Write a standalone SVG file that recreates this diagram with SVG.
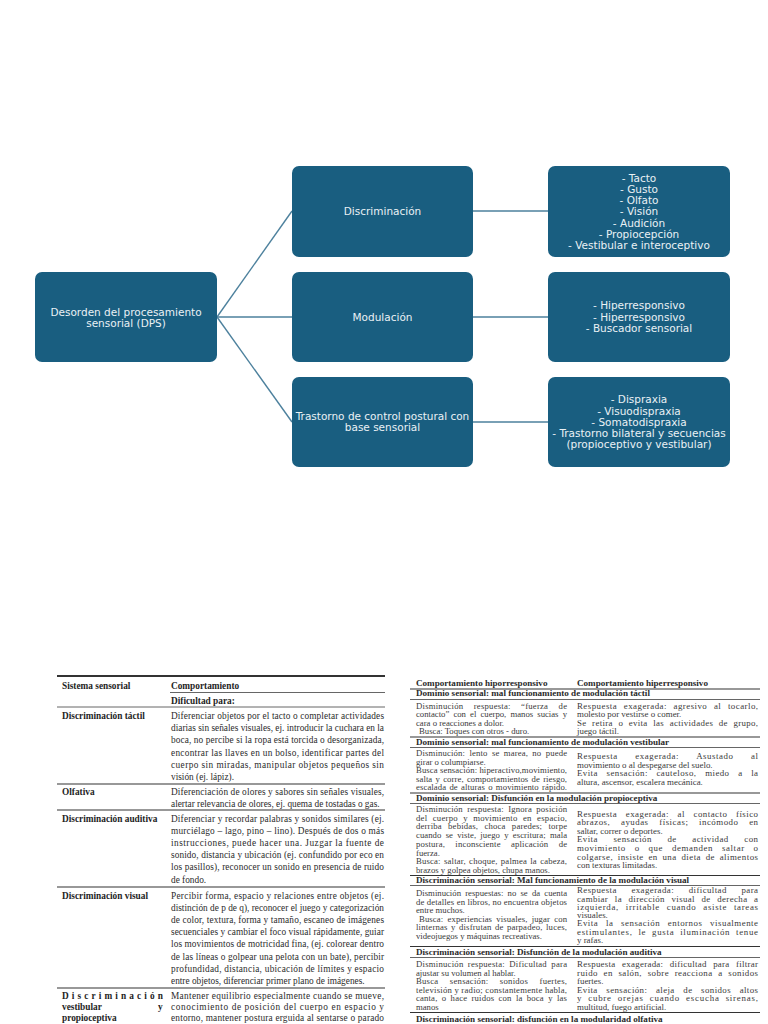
<svg xmlns="http://www.w3.org/2000/svg" width="768" height="1024" viewBox="0 0 768 1024">
<defs>
<style>
.bg{fill:#ffffff}
.node{fill:#195e80}
.nt{font-family:"DejaVu Sans",sans-serif;font-size:10.5px;fill:#eaf1f5;text-anchor:middle}
.conn{stroke:#4d819d;stroke-width:1.4;fill:none}
.lt{font-family:"Liberation Serif",serif;font-size:9.3px;fill:#2b2b2b}
.lh{font-family:"Liberation Serif",serif;font-size:9.3px;font-weight:bold;fill:#1e1e1e}
.rt{font-family:"Liberation Serif",serif;font-size:8.7px;fill:#3a3a3a}
.rr{font-family:"Liberation Serif",serif;font-size:8.9px;fill:#3a3a3a}
.rh{font-family:"Liberation Serif",serif;font-size:9.1px;font-weight:bold;fill:#2a2a2a}
.rule{stroke:#555;stroke-width:0.9}
.rule2{stroke:#333;stroke-width:1.2}
.thick{stroke:#333;stroke-width:2}
</style>
</defs>
<rect class="bg" x="0" y="0" width="768" height="1024"/>

<g id="connectors">
<line class="conn" x1="217" y1="317" x2="292" y2="211"/>
<line class="conn" x1="217" y1="317" x2="292" y2="317"/>
<line class="conn" x1="217" y1="317" x2="292" y2="422"/>
<line class="conn" x1="473" y1="211" x2="548" y2="211"/>
<line class="conn" x1="473" y1="317" x2="548" y2="317"/>
<line class="conn" x1="473" y1="422" x2="548" y2="422"/>
</g>

<g id="node-dps">
<rect class="node" x="35" y="272" width="182" height="90" rx="7"/>
<text class="nt" x="126" y="315.5">Desorden del procesamiento</text>
<text class="nt" x="126" y="326.8">sensorial (DPS)</text>
</g>

<g id="node-discriminacion">
<rect class="node" x="292" y="166" width="181" height="91" rx="7"/>
<text class="nt" x="382.5" y="215.3">Discriminación</text>
</g>

<g id="node-modulacion">
<rect class="node" x="292" y="272" width="181" height="90" rx="7"/>
<text class="nt" x="382.5" y="320.8">Modulación</text>
</g>

<g id="node-trastorno">
<rect class="node" x="292" y="377" width="181" height="90" rx="7"/>
<text class="nt" x="382.5" y="420">Trastorno de control postural con</text>
<text class="nt" x="382.5" y="431.2">base sensorial</text>
</g>

<g id="node-sentidos">
<rect class="node" x="548" y="166" width="182" height="91" rx="7"/>
<text class="nt" x="639" y="181.8">- Tacto</text>
<text class="nt" x="639" y="193">- Gusto</text>
<text class="nt" x="639" y="204.1">- Olfato</text>
<text class="nt" x="639" y="215.3">- Visión</text>
<text class="nt" x="639" y="226.5">- Audición</text>
<text class="nt" x="639" y="237.6">- Propiocepción</text>
<text class="nt" x="639" y="248.8">- Vestibular e interoceptivo</text>
</g>

<g id="node-respuestas">
<rect class="node" x="548" y="272" width="182" height="90" rx="7"/>
<text class="nt" x="639" y="309.3">- Hiperresponsivo</text>
<text class="nt" x="639" y="320.5">- Hiperresponsivo</text>
<text class="nt" x="639" y="331.7">- Buscador sensorial</text>
</g>

<g id="node-praxias">
<rect class="node" x="548" y="377" width="182" height="90" rx="7"/>
<text class="nt" x="639" y="403.3">- Dispraxia</text>
<text class="nt" x="639" y="414.5">- Visuodispraxia</text>
<text class="nt" x="639" y="425.7">- Somatodispraxia</text>
<text class="nt" x="639" y="436.9">- Trastorno bilateral y secuencias</text>
<text class="nt" x="639" y="448.1">(propioceptivo y vestibular)</text>
</g>

<g id="tabla-discriminacion">
<line class="thick" x1="57" y1="676" x2="385" y2="676"/>
<line class="rule" x1="170" y1="692.5" x2="385" y2="692.5"/>
<line class="rule" x1="57" y1="707" x2="385" y2="707"/>
<line class="rule2" x1="57" y1="784" x2="385" y2="784"/>
<line class="rule2" x1="57" y1="810" x2="385" y2="810"/>
<line class="rule2" x1="57" y1="887" x2="385" y2="887"/>
<line class="rule2" x1="57" y1="988" x2="385" y2="988"/>

<text class="lh" x="62" y="689">Sistema sensorial</text>
<text class="lh" x="171" y="689">Comportamiento</text>
<text class="lh" x="171" y="703.5">Dificultad para:</text>

<text class="lh" x="62" y="719">Discriminación táctil</text>
<text class="lt" x="171" y="719" textLength="213" lengthAdjust="spacing">Diferenciar objetos por el tacto o completar actividades</text>
<text class="lt" x="171" y="731.2" textLength="213" lengthAdjust="spacing">diarias sin señales visuales, ej. introducir la cuchara en la</text>
<text class="lt" x="171" y="743.4" textLength="213" lengthAdjust="spacing">boca, no percibe si la ropa está torcida o desorganizada,</text>
<text class="lt" x="171" y="755.6" textLength="213" lengthAdjust="spacing">encontrar las llaves en un bolso, identificar partes del</text>
<text class="lt" x="171" y="767.8" textLength="213" lengthAdjust="spacing">cuerpo sin miradas, manipular objetos pequeños sin</text>
<text class="lt" x="171" y="780">visión (ej. lápiz).</text>

<text class="lh" x="62" y="794.5">Olfativa</text>
<text class="lt" x="171" y="794.5" textLength="213" lengthAdjust="spacing">Diferenciación de olores y sabores sin señales visuales,</text>
<text class="lt" x="171" y="806.7">alertar relevancia de olores, ej. quema de tostadas o gas.</text>

<text class="lh" x="62" y="821.5">Discriminación auditiva</text>
<text class="lt" x="171" y="821.5" textLength="213" lengthAdjust="spacing">Diferenciar y recordar palabras y sonidos similares (ej.</text>
<text class="lt" x="171" y="833.7" textLength="213" lengthAdjust="spacing">murciélago – lago, pino – lino). Después de dos o más</text>
<text class="lt" x="171" y="845.9" textLength="213" lengthAdjust="spacing">instrucciones, puede hacer una. Juzgar la fuente de</text>
<text class="lt" x="171" y="858.1" textLength="213" lengthAdjust="spacing">sonido, distancia y ubicación (ej. confundido por eco en</text>
<text class="lt" x="171" y="870.3" textLength="213" lengthAdjust="spacing">los pasillos), reconocer un sonido en presencia de ruido</text>
<text class="lt" x="171" y="882.5">de fondo.</text>

<text class="lh" x="62" y="898.5">Discriminación visual</text>
<text class="lt" x="171" y="898.5" textLength="213" lengthAdjust="spacing">Percibir forma, espacio y relaciones entre objetos (ej.</text>
<text class="lt" x="171" y="910.7" textLength="213" lengthAdjust="spacing">distinción de p de q), reconocer el juego y categorización</text>
<text class="lt" x="171" y="922.9" textLength="213" lengthAdjust="spacing">de color, textura, forma y tamaño, escaneo de imágenes</text>
<text class="lt" x="171" y="935.1" textLength="213" lengthAdjust="spacing">secuenciales y cambiar el foco visual rápidamente, guiar</text>
<text class="lt" x="171" y="947.3" textLength="213" lengthAdjust="spacing">los movimientos de motricidad fina, (ej. colorear dentro</text>
<text class="lt" x="171" y="959.5" textLength="213" lengthAdjust="spacing">de las líneas o golpear una pelota con un bate), percibir</text>
<text class="lt" x="171" y="971.7" textLength="213" lengthAdjust="spacing">profundidad, distancia, ubicación de límites y espacio</text>
<text class="lt" x="171" y="983.9">entre objetos, diferenciar primer plano de imágenes.</text>

<text class="lh" x="62" y="998.6" textLength="101" lengthAdjust="spacing">Discriminación</text>
<text class="lh" x="62" y="1010">vestibular</text>
<text class="lh" x="158" y="1010">y</text>
<text class="lh" x="62" y="1021.3">propioceptiva</text>
<text class="lt" x="171" y="998.6" textLength="213" lengthAdjust="spacing">Mantener equilibrio especialmente cuando se mueve,</text>
<text class="lt" x="171" y="1010" textLength="213" lengthAdjust="spacing">conocimiento de posición del cuerpo en espacio y</text>
<text class="lt" x="171" y="1021.3" textLength="213" lengthAdjust="spacing">entorno, mantener postura erguida al sentarse o parado</text>
</g>

<g id="tabla-modulacion">
<line class="rule2" x1="410" y1="689" x2="760" y2="689"/>
<line class="rule" x1="410" y1="699.5" x2="760" y2="699.5"/>
<line class="rule2" x1="410" y1="737" x2="760" y2="737"/>
<line class="rule" x1="410" y1="747.5" x2="760" y2="747.5"/>
<line class="rule2" x1="410" y1="793" x2="760" y2="793"/>
<line class="rule" x1="410" y1="803.5" x2="760" y2="803.5"/>
<line class="rule2" x1="410" y1="875.5" x2="760" y2="875.5"/>
<line class="rule" x1="410" y1="885.5" x2="760" y2="885.5"/>
<line class="rule2" x1="410" y1="946.5" x2="760" y2="946.5"/>
<line class="rule" x1="410" y1="957.5" x2="760" y2="957.5"/>
<line class="rule2" x1="410" y1="1012.5" x2="760" y2="1012.5"/>

<text class="rh" x="416" y="686">Comportamiento hiporresponsivo</text>
<text class="rh" x="577" y="686">Comportamiento hiperresponsivo</text>

<text class="rh" x="416" y="696.3">Dominio sensorial: mal funcionamiento de modulación táctil</text>
<text class="rt" x="416" y="708.6" word-spacing="8" textLength="151" lengthAdjust="spacing">Disminución respuesta: “fuerza de</text>
<text class="rt" x="416" y="717.2" word-spacing="2" textLength="151" lengthAdjust="spacing">contacto” con el cuerpo, manos sucias y</text>
<text class="rt" x="416" y="725.8">cara o reacciones a dolor.</text>
<text class="rt" x="419" y="734.4">Busca: Toques con otros - duro.</text>
<text class="rr" x="577" y="708.6" word-spacing="4" textLength="181" lengthAdjust="spacing">Respuesta exagerada: agresivo al tocarlo,</text>
<text class="rr" x="577" y="717.2">molesto por vestirse o comer.</text>
<text class="rr" x="577" y="725.8" word-spacing="3" textLength="181" lengthAdjust="spacing">Se retira o evita las actividades de grupo,</text>
<text class="rr" x="577" y="734.4">juego táctil.</text>

<text class="rh" x="416" y="744.5">Dominio sensorial: mal funcionamiento de modulación vestibular</text>
<text class="rt" x="416" y="756" word-spacing="2" textLength="151" lengthAdjust="spacing">Disminución: lento se marea, no puede</text>
<text class="rt" x="416" y="764.6">girar o columpiarse.</text>
<text class="rt" x="416" y="773.2" textLength="151" lengthAdjust="spacing">Busca sensación: hiperactivo,movimiento,</text>
<text class="rt" x="416" y="781.8" word-spacing="1" textLength="151" lengthAdjust="spacing">salta y corre, comportamientos de riesgo,</text>
<text class="rt" x="416" y="790.4" word-spacing="1" textLength="151" lengthAdjust="spacing">escalada de alturas o movimiento rápido.</text>
<text class="rr" x="577" y="759.2" word-spacing="15" textLength="181" lengthAdjust="spacing">Respuesta exagerada: Asustado al</text>
<text class="rr" x="577" y="767.8">movimiento o al despegarse del suelo.</text>
<text class="rr" x="577" y="776.4" word-spacing="6" textLength="181" lengthAdjust="spacing">Evita sensación: cauteloso, miedo a la</text>
<text class="rr" x="577" y="785">altura, ascensor, escalera mecánica.</text>

<text class="rh" x="416" y="800.5">Dominio sensorial: Disfunción en la modulación propioceptiva</text>
<text class="rt" x="416" y="812" word-spacing="2" textLength="151" lengthAdjust="spacing">Disminución respuesta: Ignora posición</text>
<text class="rt" x="416" y="820.7" word-spacing="3" textLength="151" lengthAdjust="spacing">del cuerpo y movimiento en espacio,</text>
<text class="rt" x="416" y="829.4" word-spacing="4" textLength="151" lengthAdjust="spacing">derriba bebidas, choca paredes; torpe</text>
<text class="rt" x="416" y="838.1" word-spacing="2" textLength="151" lengthAdjust="spacing">cuando se viste, juego y escritura; mala</text>
<text class="rt" x="416" y="846.8" word-spacing="8" textLength="151" lengthAdjust="spacing">postura, inconsciente aplicación de</text>
<text class="rt" x="416" y="855.5">fuerza.</text>
<text class="rt" x="416" y="864.2" word-spacing="1" textLength="151" lengthAdjust="spacing">Busca: saltar, choque, palmea la cabeza,</text>
<text class="rt" x="416" y="872.9">brazos y golpea objetos, chupa manos.</text>
<text class="rr" x="577" y="816.6" word-spacing="6" textLength="181" lengthAdjust="spacing">Respuesta exagerada: al contacto físico</text>
<text class="rr" x="577" y="825.2" word-spacing="8" textLength="181" lengthAdjust="spacing">abrazos, ayudas físicas; incómodo en</text>
<text class="rr" x="577" y="833.8">saltar, correr o deportes.</text>
<text class="rr" x="577" y="842.4" word-spacing="13" textLength="181" lengthAdjust="spacing">Evita sensación de actividad con</text>
<text class="rr" x="577" y="851" word-spacing="6" textLength="181" lengthAdjust="spacing">movimiento o que demanden saltar o</text>
<text class="rr" x="577" y="859.6" word-spacing="2" textLength="181" lengthAdjust="spacing">colgarse, insiste en una dieta de alimentos</text>
<text class="rr" x="577" y="868.2">con texturas limitadas.</text>

<text class="rh" x="416" y="883">Discriminación sensorial: Mal funcionamiento de la modulación visual</text>
<text class="rt" x="416" y="896" word-spacing="2" textLength="151" lengthAdjust="spacing">Disminución respuestas: no se da cuenta</text>
<text class="rt" x="416" y="904.5" textLength="151" lengthAdjust="spacing">de detalles en libros, no encuentra objetos</text>
<text class="rt" x="416" y="913">entre muchos.</text>
<text class="rt" x="419" y="921.5" word-spacing="2" textLength="148" lengthAdjust="spacing">Busca: experiencias visuales, jugar con</text>
<text class="rt" x="416" y="930" word-spacing="1" textLength="151" lengthAdjust="spacing">linternas y disfrutan de parpadeo, luces,</text>
<text class="rt" x="416" y="938.5">videojuegos y máquinas recreativas.</text>
<text class="rr" x="577" y="893.2" word-spacing="12" textLength="181" lengthAdjust="spacing">Respuesta exagerada: dificultad para</text>
<text class="rr" x="577" y="901.5" word-spacing="4" textLength="181" lengthAdjust="spacing">cambiar la dirección visual de derecha a</text>
<text class="rr" x="577" y="909.8" word-spacing="4" textLength="181" lengthAdjust="spacing">izquierda, irritable cuando asiste tareas</text>
<text class="rr" x="577" y="918.1">visuales.</text>
<text class="rr" x="577" y="926.4" word-spacing="5" textLength="181" lengthAdjust="spacing">Evita la sensación entornos visualmente</text>
<text class="rr" x="577" y="934.7" word-spacing="3" textLength="181" lengthAdjust="spacing">estimulantes, le gusta iluminación tenue</text>
<text class="rr" x="577" y="943">y rafas.</text>

<text class="rh" x="416" y="954.6">Discriminación sensorial: Disfunción de la modulación auditiva</text>
<text class="rt" x="416" y="967" word-spacing="2" textLength="151" lengthAdjust="spacing">Disminución respuesta: Dificultad para</text>
<text class="rt" x="416" y="975.5">ajustar su volumen al hablar.</text>
<text class="rt" x="416" y="984" word-spacing="9" textLength="151" lengthAdjust="spacing">Busca sensación: sonidos fuertes,</text>
<text class="rt" x="416" y="992.5" textLength="151" lengthAdjust="spacing">televisión y radio; constantemente habla,</text>
<text class="rt" x="416" y="1001" word-spacing="2" textLength="151" lengthAdjust="spacing">canta, o hace ruidos con la boca y las</text>
<text class="rt" x="416" y="1009.5">manos</text>
<text class="rr" x="577" y="967" word-spacing="4" textLength="181" lengthAdjust="spacing">Respuesta exagerada: dificultad para filtrar</text>
<text class="rr" x="577" y="975.5" word-spacing="3" textLength="181" lengthAdjust="spacing">ruido en salón, sobre reacciona a sonidos</text>
<text class="rr" x="577" y="984">fuertes.</text>
<text class="rr" x="577" y="992.5" word-spacing="6" textLength="181" lengthAdjust="spacing">Evita sensación: aleja de sonidos altos</text>
<text class="rr" x="577" y="1001" word-spacing="3" textLength="181" lengthAdjust="spacing">y cubre orejas cuando escucha sirenas,</text>
<text class="rr" x="577" y="1009.5">multitud, fuego artificial.</text>

<text class="rh" x="416" y="1021.8">Discriminación sensorial: disfunción en la modularidad olfativa</text>
</g>
</svg>
